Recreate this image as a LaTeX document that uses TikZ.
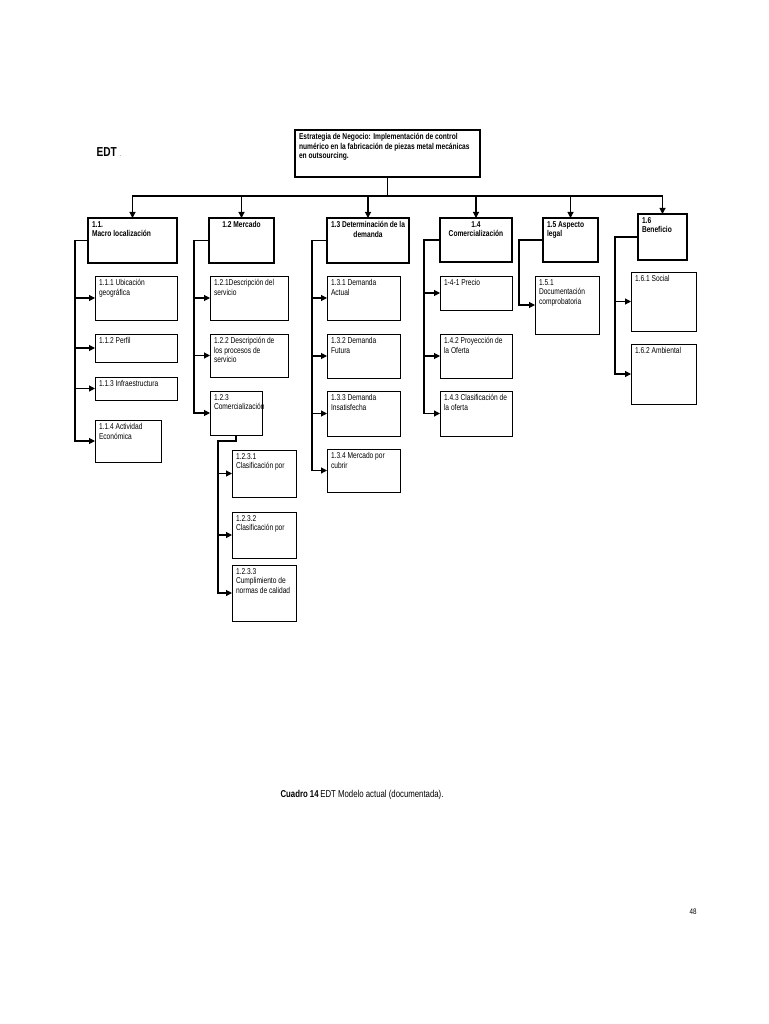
\documentclass[tikz,border=0pt]{standalone}
\usepackage{fontspec}
\setmainfont{Liberation Sans}[FakeStretch=0.78]
\usetikzlibrary{arrows.meta}
\newcommand{\bx}[7]{\node[#7,minimum width=#4pt,minimum height=#5pt,anchor=north west] (#1) at (#2,#3)
 {\parbox[c][\dimexpr#5pt-7pt][t]{\dimexpr#4pt-8pt}{#6}};}
\begin{document}
\begin{tikzpicture}[x=1pt,y=-1pt,
 every node/.style={font=\fontsize{8.5}{9.5}\selectfont},
 box/.style={draw,line width=1pt,inner sep=3.5pt,outer sep=0pt},
 hbox/.style={draw,line width=2.6pt,inner sep=3.5pt,outer sep=0pt,font=\fontsize{8.5}{9.5}\selectfont\bfseries},
 ln/.style={line width=1.1pt},
 arr/.style={line width=1.1pt,-{Triangle[length=6pt,width=6pt]}}]
\useasboundingbox (0,0) rectangle (768,1024);
\node[anchor=west,font=\fontsize{13}{14}\selectfont\bfseries] (edt) at (93,152) {EDT \textnormal{\fontsize{6}{6}\selectfont .}};
\bx{root}{295}{130}{185}{47}{\raggedright Estrategia de Negocio: Implementación de control numérico en la fabricación de piezas metal mecánicas en outsourcing.}{hbox}
% level 1
\bx{a}{88}{218}{89}{45}{\raggedright 1.1.\\ Macro localización}{hbox}
\bx{b}{209}{218}{65}{45}{\centering 1.2 Mercado}{hbox}
\bx{c}{327}{218}{82}{45}{\centering 1.3 Determinación de la demanda}{hbox}
\bx{d}{440}{218}{72}{44}{\centering 1.4\\ Comercialización}{hbox}
\bx{e}{543}{218}{55}{44}{\raggedright 1.5 Aspecto legal}{hbox}
\bx{f}{638}{214}{49}{46}{\raggedright 1.6\\ Beneficio}{hbox}
\coordinate (bus) at (0,196);
\foreach \n in {a,b,c,d,e,f}{\draw[arr] (root.south) |- (root.south |- bus) -| (\n.north);}
% 1.1
\bx{a1}{95}{276}{82}{44}{\raggedright 1.1.1 Ubicación geográfica}{box}
\bx{a2}{95}{334}{82}{28}{\raggedright 1.1.2 Perfil}{box}
\bx{a3}{95}{377}{82}{23}{\raggedright 1.1.3 Infraestructura}{box}
\bx{a4}{95}{420}{66}{42}{\raggedright 1.1.4 Actividad Económica}{box}
\foreach \n in {a1,a2,a3,a4}{\draw[arr] (a.west) -- ++(-13,0) |- (\n.west);}
% 1.2
\bx{b1}{210}{276}{78}{44}{\raggedright 1.2.1Descripción del servicio}{box}
\bx{b2}{210}{334}{78}{43}{\raggedright 1.2.2 Descripción de los procesos de servicio}{box}
\bx{b3}{210}{391}{52}{44}{\raggedright 1.2.3\\ Comercialización}{box}
\foreach \n in {b1,b2,b3}{\draw[arr] (b.west) -- ++(-15,0) |- (\n.west);}
\bx{b31}{232}{450}{64}{47}{\raggedright 1.2.3.1\\ Clasificación por}{box}
\bx{b32}{232}{512}{64}{46}{\raggedright 1.2.3.2\\ Clasificación por}{box}
\bx{b33}{232}{565}{64}{56}{\raggedright 1.2.3.3\\ Cumplimiento de normas de calidad}{box}
\coordinate (s123) at (218,441);
\foreach \n in {b31,b32,b33}{\draw[arr] (b3.south) |- (s123) |- (\n.west);}
% 1.3
\bx{c1}{327}{276}{73}{44}{\raggedright 1.3.1 Demanda Actual}{box}
\bx{c2}{327}{334}{73}{44}{\raggedright 1.3.2 Demanda Futura}{box}
\bx{c3}{327}{391}{73}{45}{\raggedright 1.3.3 Demanda Insatisfecha}{box}
\bx{c4}{327}{449}{73}{43}{\raggedright 1.3.4 Mercado por cubrir}{box}
\foreach \n in {c1,c2,c3,c4}{\draw[arr] (c.west) -- ++(-15,0) |- (\n.west);}
% 1.4
\bx{d1}{440}{276}{72}{34}{\raggedright 1-4-1 Precio}{box}
\bx{d2}{440}{334}{72}{44}{\raggedright 1.4.2 Proyección de la Oferta}{box}
\bx{d3}{440}{391}{72}{45}{\raggedright 1.4.3 Clasificación de la oferta}{box}
\foreach \n in {d1,d2,d3}{\draw[arr] (d.west) -- ++(-16,0) |- (\n.west);}
% 1.5
\bx{e1}{535}{276}{64}{58}{\raggedright 1.5.1\\ Documentación comprobatoria}{box}
\draw[arr] (e.west) -- ++(-24,0) |- (e1.west);
% 1.6
\bx{f1}{631}{272}{65}{59}{\raggedright 1.6.1 Social}{box}
\bx{f2}{631}{344}{65}{60}{\raggedright 1.6.2 Ambiental}{box}
\foreach \n in {f1,f2}{\draw[arr] (f.west) -- ++(-23,0) |- (\n.west);}
% caption
\node[font=\fontsize{10}{11}\selectfont] (cap) at (362,795) {\textbf{Cuadro 14}\,EDT Modelo actual (documentada).};
\node[font=\fontsize{8}{9}\selectfont] (pg) at (693,912) {48};
\end{tikzpicture}
\end{document}
